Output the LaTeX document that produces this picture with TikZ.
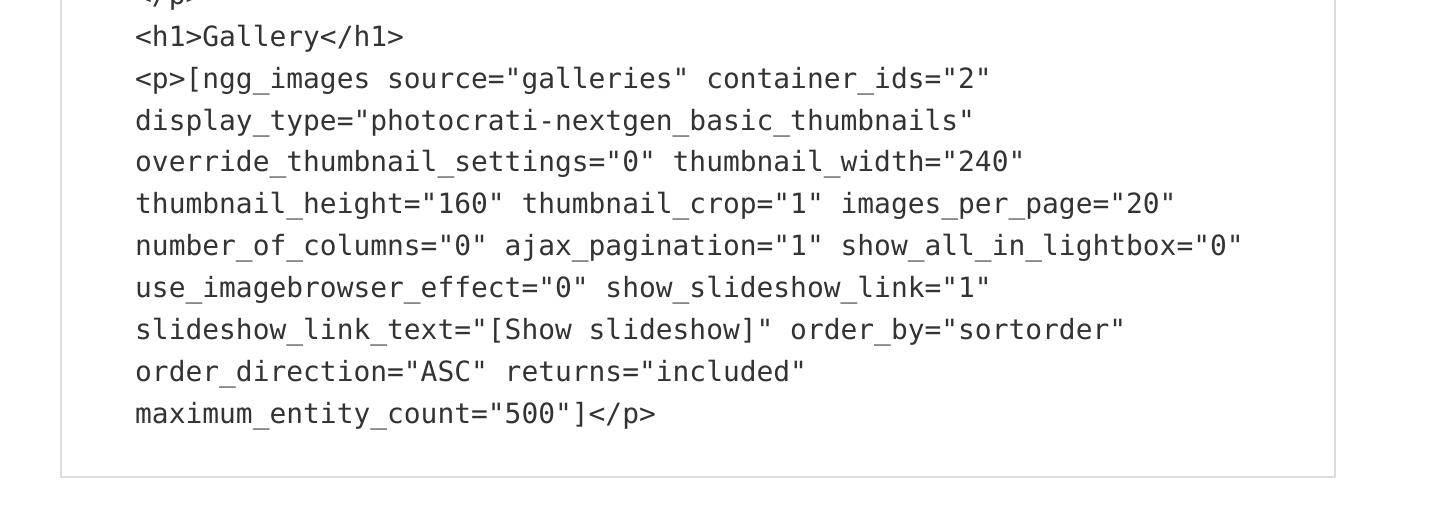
\documentclass[tikz,border=0pt]{standalone}
\usepackage{fontspec}
\setmonofont{DejaVu Sans Mono}
\definecolor{txt}{HTML}{333333}
\definecolor{frame}{HTML}{DDDDDD}
\tikzset{codeline/.style={anchor=base west,inner sep=0pt,text=txt,font=\ttfamily\fontsize{27.9}{30}\selectfont}}
\begin{document}
\begin{tikzpicture}[x=1pt,y=-1pt]
\useasboundingbox (0,0) rectangle (1438,512);
\clip (0,0) rectangle (1438,512);
\draw[frame,line width=1.5pt] (61,-10) -- (61,477) -- (1335,477) -- (1335,-10);
\node[codeline] (l0) at (135,4) {</p>};
\node[codeline] (l1) at (135,46) {<h1>Gallery</h1>};
\node[codeline] (l2) at (135,88) {<p>[ngg\_images source="galleries" container\_ids="2"};
\node[codeline] (l3) at (135,130) {display\_type="photocrati-nextgen\_basic\_thumbnails"};
\node[codeline] (l4) at (135,171) {override\_thumbnail\_settings="0" thumbnail\_width="240"};
\node[codeline] (l5) at (135,213) {thumbnail\_height="160" thumbnail\_crop="1" images\_per\_page="20"};
\node[codeline] (l6) at (135,255) {number\_of\_columns="0" ajax\_pagination="1" show\_all\_in\_lightbox="0"};
\node[codeline] (l7) at (135,297) {use\_imagebrowser\_effect="0" show\_slideshow\_link="1"};
\node[codeline] (l8) at (135,339) {slideshow\_link\_text="[Show slideshow]" order\_by="sortorder"};
\node[codeline] (l9) at (135,381) {order\_direction="ASC" returns="included"};
\node[codeline] (l10) at (135,423) {maximum\_entity\_count="500"]</p>};
\end{tikzpicture}
\end{document}
